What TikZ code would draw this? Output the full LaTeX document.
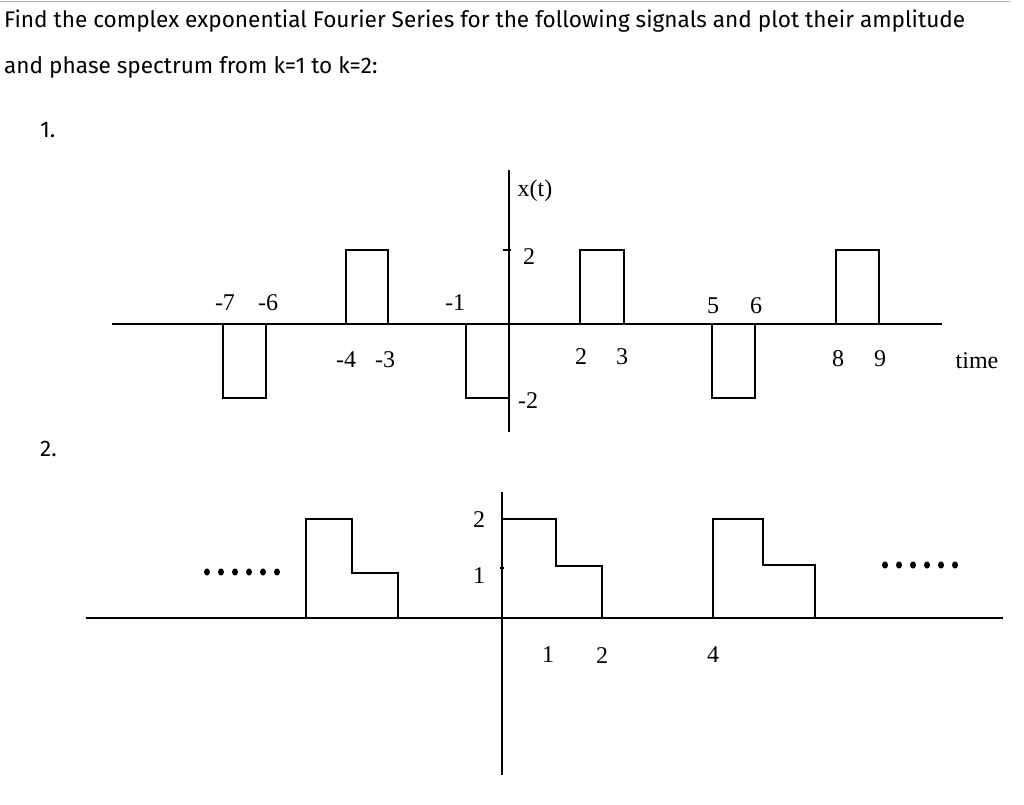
\documentclass[tikz,border=0pt]{standalone}
\usepackage{fontspec}
\setmainfont{Fira Sans}
\newfontfamily\plotfont{Liberation Serif}
\begin{document}
\begin{tikzpicture}[x=1pt,y=-1pt]
        \useasboundingbox (0,0) rectangle (1024,804);
        \tikzset{sig/.style={line width=1.6pt},
                 ax/.style={line width=1.8pt},
                 lab/.style={font=\plotfont\fontsize{24}{24}\selectfont,inner sep=0pt},
                 txt/.style={font=\fontsize{22.6}{24}\selectfont,anchor=base west,inner sep=0pt}}
        \draw [gray!60,line width=1pt] (0,1) -- (1010,1);
        \node [txt] (line1) at (4,27) {Find the complex exponential Fourier Series for the following signals and plot their amplitude};
        \node [txt] (line2) at (4,73) {and phase spectrum from k=1 to k=2:};
        \node [txt] (num1) at (40,137) {1.};
        \node [txt] (num2) at (40,456) {2.};

        % signal 1
        \coordinate (L1) at (112,324);
        \coordinate (R1) at (942,324);
        \coordinate (T1) at (509,170);
        \coordinate (B1) at (509,432);
        \draw [ax] (L1) -- (R1);
        \draw [sig] (T1) -- (B1);
        \draw [sig] (503,250) -- (511,250);
        \foreach \a/\b in {346/388, 580/624, 836/879}
            \draw [sig] (\a,324) -- (\a,250) -- (\b,250) -- (\b,324);
        \foreach \a/\b in {223/266, 466/509, 712/755}
            \draw [sig] (\a,324) -- (\a,398) -- (\b,398) -- (\b,324);
        \node [lab] (xt) at (535,191) {x(t)};
        \node [lab] (ptwo) at (529,257) {2};
        \node [lab] (mtwo) at (528,401) {-2};
        \node [lab] (m7) at (225,303) {-7};
        \node [lab] (m6) at (268,303) {-6};
        \node [lab] (m1) at (455,303) {-1};
        \node [lab] (p5) at (713,306) {5};
        \node [lab] (p6) at (756,306) {6};
        \node [lab] (m4) at (346,360) {-4};
        \node [lab] (m3) at (385,360) {-3};
        \node [lab] (p2) at (581,357) {2};
        \node [lab] (p3) at (622,357) {3};
        \node [lab] (p8) at (838,359) {8};
        \node [lab] (p9) at (880,359) {9};
        \node [lab] (time) at (977,361) {time};

        % signal 2
        \coordinate (L2) at (86,618);
        \coordinate (R2) at (1003,618);
        \coordinate (T2) at (502,492);
        \coordinate (B2) at (502,775);
        \draw [ax] (L2) -- (R2);
        \draw [ax] (T2) -- (B2);
        \foreach \a/\s/\b/\m in {306/352/398/573, 502/556/602/566, 713/763/815/565}
            \draw [sig] (\a,618) -- (\a,519) -- (\s,519) -- (\s,\m) -- (\b,\m) -- (\b,618);
        \draw [sig] (500,568) -- (504,568);
        \node [lab] (ltwo) at (479,520) {2};
        \node [lab] (lone) at (479,576) {1};
        \node [lab] (q1) at (548,655) {1};
        \node [lab] (q2) at (602,656) {2};
        \node [lab] (q4) at (713,655) {4};
        \foreach \x in {0,...,5} {
            \fill (207+\x*14,572) ellipse (3 and 3.6);
            \fill (885+\x*14,565) ellipse (3 and 3.6);
        }
    \end{tikzpicture}
\end{document}
